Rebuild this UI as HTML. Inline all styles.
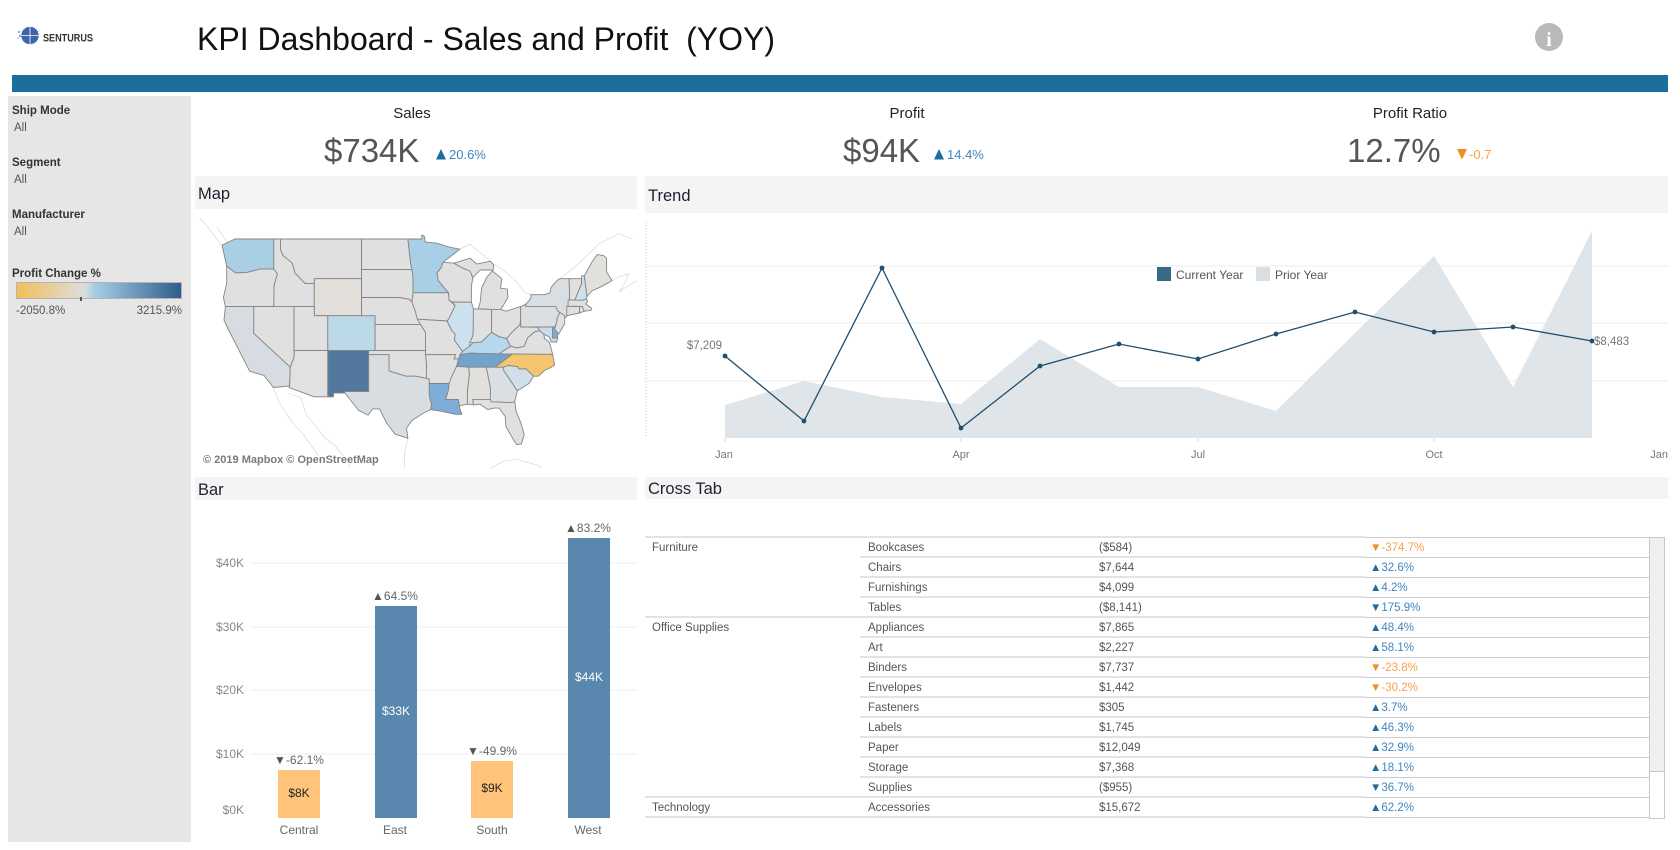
<!DOCTYPE html>
<html><head><meta charset="utf-8"><style>
html,body{margin:0;padding:0;background:#fff;width:1680px;height:850px;overflow:hidden}
svg{display:block;font-family:"Liberation Sans",Arial,sans-serif}
</style></head><body>
<svg id="s" width="1680" height="850" viewBox="0 0 1680 850" xmlns="http://www.w3.org/2000/svg">
<rect width="1680" height="850" fill="#fff"/>
<!-- logo -->
<g>
<circle cx="30" cy="35.5" r="9" fill="#3e63a8"/>
<circle cx="30" cy="35.5" r="9" fill="none" stroke="#fff" stroke-width="1" stroke-dasharray="1.5 1"/>
<line x1="21" y1="35.5" x2="39" y2="35.5" stroke="#fff" stroke-width="0.8"/>
<line x1="30" y1="26.5" x2="30" y2="44.5" stroke="#fff" stroke-width="0.8"/>
<circle cx="19" cy="32" r="1" fill="#6f8fc8"/><circle cx="20" cy="36" r="1" fill="#6f8fc8"/><circle cx="18" cy="38" r="0.8" fill="#8aa2d0"/>
<text x="43" y="41.5" font-size="11" font-weight="bold" fill="#333" textLength="50" lengthAdjust="spacingAndGlyphs">SENTURUS</text>
</g>
<text x="197" y="50" font-size="32" fill="#111">KPI Dashboard - Sales and Profit &#160;(YOY)</text>
<circle cx="1549" cy="37" r="14" fill="#b9b9b9"/>
<text x="1549" y="46" font-size="20" font-weight="bold" fill="#fff" text-anchor="middle" font-family="Liberation Serif,serif">i</text>
<rect x="12" y="75" width="1656" height="17" fill="#1c6e9c"/>

<!-- left panel -->
<rect x="8" y="96" width="183" height="746" fill="#e6e6e6"/>
<g font-size="11.5" fill="#333" font-weight="bold">
<text x="12" y="114">Ship Mode</text>
<text x="12" y="166">Segment</text>
<text x="12" y="218">Manufacturer</text>
<text x="12" y="277">Profit Change %</text>
</g>
<g font-size="11.5" fill="#555">
<text x="14" y="131">All</text>
<text x="14" y="183">All</text>
<text x="14" y="235">All</text>
</g>
<defs>
<linearGradient id="lg" x1="0" x2="1" y1="0" y2="0">
<stop offset="0" stop-color="#f2bf58"/>
<stop offset="0.38" stop-color="#e0dbd4"/>
<stop offset="0.42" stop-color="#d9dcdf"/>
<stop offset="0.47" stop-color="#a6cfe6"/>
<stop offset="1" stop-color="#2f5c8a"/>
</linearGradient>
<clipPath id="mc"><rect x="195" y="215" width="442" height="253"/></clipPath>
</defs>
<rect x="16.5" y="282.5" width="165" height="16" fill="url(#lg)" stroke="#b4b4b4"/>
<rect x="80" y="297" width="2" height="4" fill="#555"/>
<text x="16" y="314" font-size="11.5" fill="#555">-2050.8%</text>
<text x="182" y="314" font-size="11.5" fill="#555" text-anchor="end">3215.9%</text>

<!-- KPIs -->
<g font-size="15" fill="#222" text-anchor="middle">
<text x="412" y="118">Sales</text>
<text x="907" y="118">Profit</text>
<text x="1410" y="118">Profit Ratio</text>
</g>
<g font-size="33" fill="#555">
<text x="324" y="162">$734K</text>
<text x="843" y="162">$94K</text>
<text x="1347" y="162">12.7%</text>
</g>
<polygon points="436,159.5 446,159.5 441,149" fill="#1f6e9f"/>
<text x="449" y="159" font-size="13" fill="#3f86bd">20.6%</text>
<polygon points="934,159.5 944,159.5 939,149" fill="#1f6e9f"/>
<text x="947" y="159" font-size="13" fill="#3f86bd">14.4%</text>
<polygon points="1457,149 1467,149 1462,159.5" fill="#f28e1c"/>
<text x="1469" y="159" font-size="13" fill="#f5a24a">-0.7</text>

<!-- section headers -->
<rect x="195" y="176" width="442" height="33" fill="#f4f4f4"/>
<text x="198" y="199" font-size="16.5" fill="#1e2230">Map</text>
<rect x="645" y="176" width="1023" height="37" fill="#f4f4f4"/>
<text x="648" y="201" font-size="16.5" fill="#1e2230">Trend</text>
<rect x="195" y="477" width="442" height="23" fill="#f4f4f4"/>
<text x="198" y="495" font-size="16.5" fill="#1e2230">Bar</text>
<rect x="645" y="477" width="1023" height="22" fill="#f4f4f4"/>
<text x="648" y="494" font-size="16.5" fill="#1e2230">Cross Tab</text>

<!-- map -->
<g id="map" clip-path="url(#mc)"></g>
<text x="203" y="463" font-size="11" font-weight="bold" fill="#7a7a7a" stroke="#fff" stroke-width="2.5" paint-order="stroke">© 2019 Mapbox © OpenStreetMap</text>

<!-- trend -->
<line x1="646" y1="222" x2="646" y2="438" stroke="#c8c8c8" stroke-dasharray="1 2"/>
<g stroke="#ececec" stroke-width="1">
<line x1="646" y1="266" x2="1668" y2="266"/>
<line x1="646" y1="323" x2="1668" y2="323"/>
<line x1="646" y1="381" x2="1668" y2="381"/>
</g>
<polygon fill="#dfe5e9" points="725,405 804,381 882,397 961,404 1040,339 1119,387 1198,387 1276,411 1355,333 1434,256 1513,387 1592,231 1592,438 725,438"/>
<g stroke="#d8d8d8"><line x1="725" y1="438" x2="725" y2="442"/><line x1="961" y1="438" x2="961" y2="442"/><line x1="1198" y1="438" x2="1198" y2="442"/><line x1="1434" y1="438" x2="1434" y2="442"/></g>
<polyline fill="none" stroke="#1f4e6e" stroke-width="1.3" points="725,356 804,421 882,268 961,428 1040,366 1119,344 1198,359 1276,334 1355,312 1434,332 1513,327 1592,341"/>
<g fill="#1f4e6e">
<circle cx="725" cy="356" r="2.4"/><circle cx="804" cy="421" r="2.4"/><circle cx="882" cy="268" r="2.4"/><circle cx="961" cy="428" r="2.4"/><circle cx="1040" cy="366" r="2.4"/><circle cx="1119" cy="344" r="2.4"/><circle cx="1198" cy="359" r="2.4"/><circle cx="1276" cy="334" r="2.4"/><circle cx="1355" cy="312" r="2.4"/><circle cx="1434" cy="332" r="2.4"/><circle cx="1513" cy="327" r="2.4"/><circle cx="1592" cy="341" r="2.4"/>
</g>
<text x="722" y="349" font-size="11.5" fill="#777" text-anchor="end">$7,209</text>
<text x="1594" y="345" font-size="11.5" fill="#777">$8,483</text>
<rect x="1157" y="267" width="14" height="14" fill="#386a88"/>
<text x="1176" y="279" font-size="12" fill="#555">Current Year</text>
<rect x="1256" y="267" width="14" height="14" fill="#d7dfe5"/>
<text x="1275" y="279" font-size="12" fill="#555">Prior Year</text>
<g font-size="11" fill="#777" text-anchor="middle">
<text x="724" y="458">Jan</text><text x="961" y="458">Apr</text><text x="1198" y="458">Jul</text><text x="1434" y="458">Oct</text>
<text x="1668" y="458" text-anchor="end">Jan</text>
</g>

<!-- bar -->
<g stroke="#eeeeee"><line x1="251" y1="563" x2="637" y2="563"/><line x1="251" y1="627" x2="637" y2="627"/><line x1="251" y1="690" x2="637" y2="690"/><line x1="251" y1="754" x2="637" y2="754"/></g>
<g font-size="12" fill="#888" text-anchor="end">
<text x="244" y="567">$40K</text><text x="244" y="631">$30K</text><text x="244" y="694">$20K</text><text x="244" y="758">$10K</text><text x="244" y="814">$0K</text>
</g>
<rect x="278" y="770" width="42" height="48" fill="#ffc47a"/>
<rect x="375" y="606" width="42" height="212" fill="#5a87ad"/>
<rect x="471" y="761" width="42" height="57" fill="#ffc47a"/>
<rect x="568" y="538" width="42" height="280" fill="#5a87ad"/>
<g font-size="12" text-anchor="middle">
<text x="299" y="797" fill="#222">$8K</text>
<text x="396" y="715" fill="#fff">$33K</text>
<text x="492" y="792" fill="#222">$9K</text>
<text x="589" y="681" fill="#fff">$44K</text>
</g>
<g font-size="12" fill="#666" text-anchor="middle">
<text x="299" y="764"><tspan fill="#555">▼</tspan>-62.1%</text>
<text x="395" y="600"><tspan fill="#555">▲</tspan>64.5%</text>
<text x="492" y="755"><tspan fill="#555">▼</tspan>-49.9%</text>
<text x="588" y="532"><tspan fill="#555">▲</tspan>83.2%</text>
</g>
<g font-size="12" fill="#666" text-anchor="middle">
<text x="299" y="834">Central</text><text x="395" y="834">East</text><text x="492" y="834">South</text><text x="588" y="834">West</text>
</g>

<!-- cross tab -->
<g id="ct"></g>
<rect x="1649.5" y="537.5" width="15" height="281" fill="#fff" stroke="#c8c8c8"/>
<rect x="1649.5" y="537.5" width="15" height="234" fill="#f0f0f0" stroke="#c8c8c8"/>
</svg>
<script>
(function(){
var NS="http://www.w3.org/2000/svg";
var k=6.76;
function M(l){return Math.log(Math.tan(Math.PI/4+l*Math.PI/360))*180/Math.PI;}
var M49=M(49);
function P(p){return (222+(p[0]+124.7)*k).toFixed(1)+","+(239+(M49-M(p[1]))*k).toFixed(1);}
var G="#e0e0e0";
var S=[
["#a9cfe5",[[-124.7,48.4],[-122.8,49],[-117.03,49],[-117.03,46.0],[-119,46],[-121,45.65],[-122.7,45.6],[-124.0,46.3]]],
[G,[[-124.0,46.3],[-122.7,45.6],[-121,45.65],[-119,46],[-117.03,46.0],[-116.5,45.5],[-117.0,44.3],[-117.03,42],[-124.2,42],[-124.5,43],[-124.0,44.5]]],
["#d6dce1",[[-124.2,42],[-120,42],[-120,39],[-114.6,35],[-114.7,32.7],[-117.1,32.5],[-118.5,34],[-120.6,34.5],[-122.5,37.5],[-123.8,39.5],[-124.4,40.5]]],
["#e1e0df",[[-120,42],[-114.04,42],[-114.04,36.2],[-114.6,35],[-120,39]]],
[G,[[-117.03,49],[-116.05,49],[-116.05,47.98],[-115.7,47.4],[-114.3,46.6],[-113.9,45.6],[-112.4,44.5],[-111.05,44.5],[-111.05,42],[-117.03,42],[-117.0,44.3],[-116.5,45.5],[-117.03,46.0]]],
[G,[[-116.05,49],[-104.05,49],[-104.05,45],[-111.05,45],[-111.05,44.5],[-112.4,44.5],[-113.9,45.6],[-114.3,46.6],[-115.7,47.4],[-116.05,47.98]]],
["#e3e0dc",[[-111.05,45],[-104.05,45],[-104.05,41],[-111.05,41]]],
[G,[[-114.04,42],[-111.05,42],[-111.05,41],[-109.05,41],[-109.05,37],[-114.04,37]]],
["#e2e1df",[[-114.04,37],[-109.05,37],[-109.05,31.33],[-111.07,31.33],[-114.8,32.5],[-114.7,32.7],[-114.6,35],[-114.04,36.2]]],
["#bcd9e8",[[-109.05,41],[-102.05,41],[-102.05,37],[-109.05,37]]],
["#52799d",[[-109.05,37],[-103,37],[-103,32],[-106.6,32],[-106.5,31.8],[-108.2,31.8],[-108.2,31.33],[-109.05,31.33]]],
[G,[[-104.05,49],[-97.2,49],[-96.8,46.6],[-96.6,45.94],[-104.05,45.94]]],
[G,[[-104.05,45.94],[-96.6,45.94],[-96.45,45.3],[-96.45,43.5],[-96.6,42.5],[-97.0,42.8],[-98.5,43],[-104.05,43]]],
[G,[[-104.05,43],[-98.5,43],[-97,42.8],[-96.6,42.5],[-96.1,41.5],[-95.3,40],[-102.05,40],[-102.05,41],[-104.05,41]]],
[G,[[-102.05,40],[-95.3,40],[-94.9,39.5],[-94.6,39.1],[-94.6,37],[-102.05,37]]],
[G,[[-103,37],[-94.6,37],[-94.43,35.4],[-94.48,33.64],[-96,33.9],[-97.5,33.9],[-99.5,34.4],[-100,34.56],[-100,36.5],[-103,36.5]]],
["#d7dde1",[[-106.6,32],[-103,32],[-103,36.5],[-100,36.5],[-100,34.56],[-99.5,34.4],[-97.5,33.9],[-96,33.9],[-94.48,33.64],[-94.04,33.55],[-94.04,31.5],[-93.7,30.3],[-93.85,29.7],[-95,29.2],[-96.6,28.3],[-97.4,27.3],[-97.2,25.95],[-99.1,26.5],[-100.3,27.9],[-101.4,29.8],[-102.4,29.8],[-103.1,29.0],[-104.5,29.6],[-106.5,31.8]]],
["#a8cfe6",[[-97.2,49],[-95.15,49],[-95.15,49.38],[-94.8,49.3],[-94.6,48.7],[-93,48.6],[-91,48.2],[-89.5,48],[-92.0,46.7],[-92.3,46.1],[-92.9,45.6],[-92.7,44.8],[-91.2,43.5],[-96.45,43.5],[-96.45,45.3],[-96.6,45.94],[-96.8,46.6]]],
[G,[[-96.45,43.5],[-91.2,43.5],[-91.1,42.7],[-90.2,42.1],[-90.6,41.5],[-91.1,40.7],[-91.4,40.4],[-95.8,40.6],[-96.1,41.5],[-96.6,42.5]]],
[G,[[-95.8,40.6],[-91.4,40.4],[-90.7,39.3],[-90.2,38.9],[-90.3,38.2],[-89.5,37.3],[-89.1,36.9],[-89.7,36],[-90.4,36],[-90.15,36.5],[-94.6,36.5],[-94.6,39.1],[-94.9,39.5],[-95.3,40]]],
[G,[[-94.6,36.5],[-90.15,36.5],[-90.4,36],[-89.7,36],[-90.0,35.1],[-91.1,33.0],[-94.04,33.0],[-94.04,33.55],[-94.48,33.64],[-94.43,35.4]]],
["#7eaed8",[[-94.04,33.0],[-91.1,33.0],[-91.2,32.2],[-91.6,31.0],[-89.73,31.0],[-89.6,30.2],[-89.4,29.5],[-89.2,29.1],[-90.2,29.1],[-91.3,29.3],[-92.3,29.5],[-93.85,29.7],[-93.7,30.3],[-94.04,31.5]]],
[G,[[-92.0,46.7],[-90.4,46.6],[-89.1,46.1],[-88.0,45.8],[-87.6,45.1],[-87.8,44.2],[-87.8,42.49],[-90.6,42.5],[-91.1,42.7],[-91.2,43.5],[-92.7,44.8],[-92.9,45.6],[-92.3,46.1]]],
["#cde0ed",[[-90.6,42.5],[-87.8,42.49],[-87.5,41.76],[-87.53,39.5],[-87.6,38.7],[-88.0,38.0],[-88.1,37.5],[-89.1,36.9],[-89.5,37.3],[-90.3,38.2],[-90.2,38.9],[-90.7,39.3],[-91.4,40.4],[-91.1,40.7],[-90.6,41.5],[-90.2,42.1]]],
[G,[[-86.8,41.76],[-84.8,41.7],[-83.5,41.7],[-83.1,42.1],[-82.4,43.0],[-82.5,43.9],[-83.5,44.0],[-83.3,45.0],[-84.7,45.8],[-85.5,45.2],[-86.3,44.0],[-86.5,42.5]]],
[G,[[-90.4,46.6],[-88.0,47.1],[-87,46.5],[-85,46.8],[-84.5,46.4],[-84.6,45.9],[-86.5,45.9],[-87.6,45.1],[-88.0,45.8],[-89.1,46.1]]],
[G,[[-87.53,41.76],[-84.8,41.7],[-84.82,39.1],[-85.4,38.7],[-86.3,38.0],[-87.6,37.9],[-88.0,38.0],[-87.6,38.7],[-87.53,39.5]]],
[G,[[-84.8,41.7],[-83.5,41.7],[-82.7,41.5],[-81.0,41.9],[-80.52,42.0],[-80.52,40.64],[-80.6,40.0],[-81.7,39.2],[-82.6,38.4],[-83.7,38.6],[-84.82,39.1]]],
["#b6d8ec",[[-89.5,36.5],[-88.05,36.68],[-83.7,36.6],[-82.0,37.5],[-82.6,38.4],[-83.7,38.6],[-84.82,39.1],[-85.4,38.7],[-86.3,38.0],[-87.6,37.9],[-88.1,37.5],[-89.1,36.9]]],
["#73a2cb",[[-90.0,35.1],[-88.2,35],[-85.6,35],[-84.3,35],[-81.7,36.6],[-83.7,36.6],[-88.05,36.68],[-89.5,36.5],[-89.7,36]]],
[G,[[-90.0,35.1],[-88.2,35],[-88.1,34.2],[-88.4,31.9],[-88.4,30.4],[-89.6,30.2],[-89.73,31],[-91.6,31],[-91.2,32.2],[-91.1,33],[-90.6,34.1]]],
["#e2e0dd",[[-88.2,35],[-85.6,35],[-85.0,32.5],[-85.0,31.0],[-87.6,31.0],[-87.5,30.3],[-88.4,30.4],[-88.4,31.9],[-88.1,34.2]]],
["#d9dfe3",[[-85.6,35],[-83.1,35],[-83.1,34.7],[-81.0,32.1],[-81.4,30.7],[-82.0,30.6],[-84.9,30.7],[-85.0,31.0],[-85.0,32.5]]],
["#e2e0de",[[-87.6,31.0],[-85.0,31.0],[-84.9,30.7],[-82.0,30.6],[-81.4,30.7],[-81.2,29.5],[-80.5,28.0],[-80.0,26.5],[-80.4,25.2],[-81.1,25.1],[-81.8,26.1],[-82.7,27.5],[-82.8,28.8],[-83.7,29.9],[-84.4,29.9],[-85.4,29.7],[-86.5,30.4],[-87.5,30.3]]],
["#d1dfe8",[[-83.1,35],[-82.4,35.2],[-81.0,35.1],[-80.8,34.8],[-79.7,34.8],[-78.6,33.9],[-79.3,33.0],[-80.6,32.3],[-81.0,32.1],[-83.1,34.7]]],
["#f5c56f",[[-84.3,35],[-83.1,35],[-82.4,35.2],[-81.0,35.1],[-80.8,34.8],[-79.7,34.8],[-78.6,33.9],[-77.9,33.9],[-77.0,34.6],[-76.0,35.0],[-75.5,35.3],[-75.8,36.55],[-81.7,36.6]]],
[G,[[-83.7,36.6],[-81.7,36.6],[-75.8,36.55],[-76.0,37.2],[-76.3,38.0],[-77.0,38.4],[-77.1,38.9],[-77.7,39.3],[-78.4,39.2],[-79.5,38.5],[-80.0,37.5],[-81.0,37.3],[-82.0,37.5]]],
[G,[[-82.0,37.5],[-81.0,37.3],[-80.0,37.5],[-79.5,38.5],[-78.4,39.2],[-77.7,39.3],[-78.0,39.7],[-79.5,39.72],[-80.52,39.72],[-80.52,40.64],[-80.6,40.0],[-81.7,39.2],[-82.6,38.4]]],
["#c8dcec",[[-79.5,39.72],[-75.8,39.72],[-75.8,38.45],[-75.05,38.45],[-75.2,38.0],[-76.0,38.0],[-76.3,38.6],[-77.1,38.9],[-77.7,39.3],[-78.0,39.7]]],
["#7eaed8",[[-75.8,39.72],[-75.4,39.8],[-75.05,38.8],[-75.05,38.45],[-75.8,38.45]]],
["#dcdfe1",[[-80.52,42.0],[-79.76,42.27],[-79.76,42.0],[-75.35,42.0],[-75.0,41.5],[-74.7,41.35],[-75.1,40.8],[-75.2,40.2],[-75.4,39.8],[-75.8,39.72],[-80.52,39.72]]],
["#d9dee2",[[-79.76,42.0],[-79.76,42.27],[-79.0,42.9],[-79.0,43.3],[-77.0,43.3],[-76.2,43.5],[-76.0,44.1],[-75.0,44.9],[-74.7,45.0],[-73.35,45.0],[-73.3,43.6],[-73.3,42.75],[-73.5,42.05],[-73.5,41.3],[-73.7,40.95],[-74.0,40.7],[-74.7,41.35],[-75.0,41.5],[-75.35,42.0]]],
[G,[[-74.7,41.35],[-74.0,41.0],[-74.0,40.7],[-74.0,40.1],[-74.6,39.3],[-74.9,38.9],[-75.5,39.5],[-75.2,40.2],[-75.1,40.8]]],
[G,[[-73.7,42.05],[-71.8,42.02],[-71.8,41.3],[-73.7,41.0]]],
[G,[[-71.8,42.02],[-71.4,42.02],[-71.1,41.5],[-71.8,41.3]]],
[G,[[-73.5,42.75],[-71.3,42.7],[-70.8,42.85],[-70.6,42.6],[-70.9,42.3],[-70.0,41.8],[-70.1,41.6],[-71.1,41.5],[-71.4,42.02],[-73.5,42.05]]],
[G,[[-73.35,45.0],[-71.5,45.0],[-71.5,44.5],[-72.5,42.73],[-73.3,42.75],[-73.3,43.6]]],
["#cfe0ec",[[-71.5,45.3],[-71.1,45.3],[-70.7,43.1],[-70.8,42.85],[-71.3,42.7],[-72.5,42.73],[-71.5,44.5]]],
["#e2e0dd",[[-71.1,45.3],[-70.0,46.7],[-69.2,47.46],[-68.2,47.35],[-67.8,47.1],[-67.8,45.7],[-67.0,44.8],[-68.5,44.2],[-70.0,43.7],[-70.7,43.1]]]
];
var L=[
[[-117.1,32.5],[-116.2,30.5],[-115.0,29],[-114.1,27.8],[-112.7,26.5],[-111.5,25],[-110,23]],
[[-114.8,31.8],[-113,31.2],[-112.2,29],[-111,27.8],[-109.5,26],[-108,25],[-106.5,23.3],[-105.5,21.5]],
[[-97.2,25.95],[-97.7,24],[-97.7,22],[-97.3,21]],
[[-85,21.9],[-83,22.9],[-81,23.1],[-78,22.3],[-76,21]],
[[-67,44.8],[-66,45.2],[-64.5,45.5],[-65.5,44],[-66,43.6],[-64,44.5],[-61,45.5]],
[[-124.7,48.4],[-125.5,49],[-127,50.3],[-128,51]],
[[-123.3,48.3],[-124.5,49.2],[-125.5,50.2]],
[[-79,43.3],[-80,43.6],[-81.5,45],[-83.5,46.1],[-84.5,46.5],[-88,48.5],[-89.5,48]],
[[-76.2,43.5],[-74.7,45],[-72,46.5],[-69,48.5],[-66,49.5],[-64,49]]
];
var g=document.getElementById("map");
L.forEach(function(l){var e=document.createElementNS(NS,"polyline");e.setAttribute("points",l.map(P).join(" "));e.setAttribute("fill","none");e.setAttribute("stroke","#d2d2d2");e.setAttribute("stroke-width","0.6");g.appendChild(e);});
S.forEach(function(s){var e=document.createElementNS(NS,"polygon");e.setAttribute("points",s[1].map(P).join(" "));e.setAttribute("fill",s[0]);e.setAttribute("stroke","#858585");e.setAttribute("stroke-width","0.9");e.setAttribute("stroke-linejoin","round");g.appendChild(e);});
// cross tab
var rows=[
["Furniture","Bookcases","($584)","▼","-374.7%",1],
["","Chairs","$7,644","▲","32.6%",0],
["","Furnishings","$4,099","▲","4.2%",0],
["","Tables","($8,141)","▼","175.9%",0],
["Office Supplies","Appliances","$7,865","▲","48.4%",0],
["","Art","$2,227","▲","58.1%",0],
["","Binders","$7,737","▼","-23.8%",1],
["","Envelopes","$1,442","▼","-30.2%",1],
["","Fasteners","$305","▲","3.7%",0],
["","Labels","$1,745","▲","46.3%",0],
["","Paper","$12,049","▲","32.9%",0],
["","Storage","$7,368","▲","18.1%",0],
["","Supplies","($955)","▼","36.7%",0],
["Technology","Accessories","$15,672","▲","62.2%",0]
];
var ct=document.getElementById("ct"),h="";
for(var i=0;i<=14;i++){
 var y=537+20*i;
 var full=(i==0||i==4||i==13||i==14);
 h+='<rect x="'+(full?645:860)+'" y="'+(y-1)+'" width="'+(1366-(full?645:860))+'" height="2" fill="#e3e3e3"/>';
 h+='<rect x="1366" y="'+y+'" width="283" height="1" fill="#cbcbcb"/>';
}
rows.forEach(function(r,i){
 var y=547+20*i+4;
 if(r[0])h+='<text x="652" y="'+y+'" font-size="11.5" fill="#555">'+r[0]+'</text>';
 h+='<text x="868" y="'+y+'" font-size="11.5" fill="#555">'+r[1]+'</text>';
 h+='<text x="1099" y="'+y+'" font-size="11.5" fill="#555">'+r[2]+'</text>';
 var tc=r[5]?"#f28e1c":"#1f6e9f",xc=r[5]?"#f5a24a":"#3f86bd";
 h+='<text x="1370" y="'+y+'" font-size="11.5"><tspan fill="'+tc+'">'+r[3]+'</tspan><tspan fill="'+xc+'">'+r[4]+'</tspan></text>';
});
ct.innerHTML=h;
})();
</script>
</body></html>
